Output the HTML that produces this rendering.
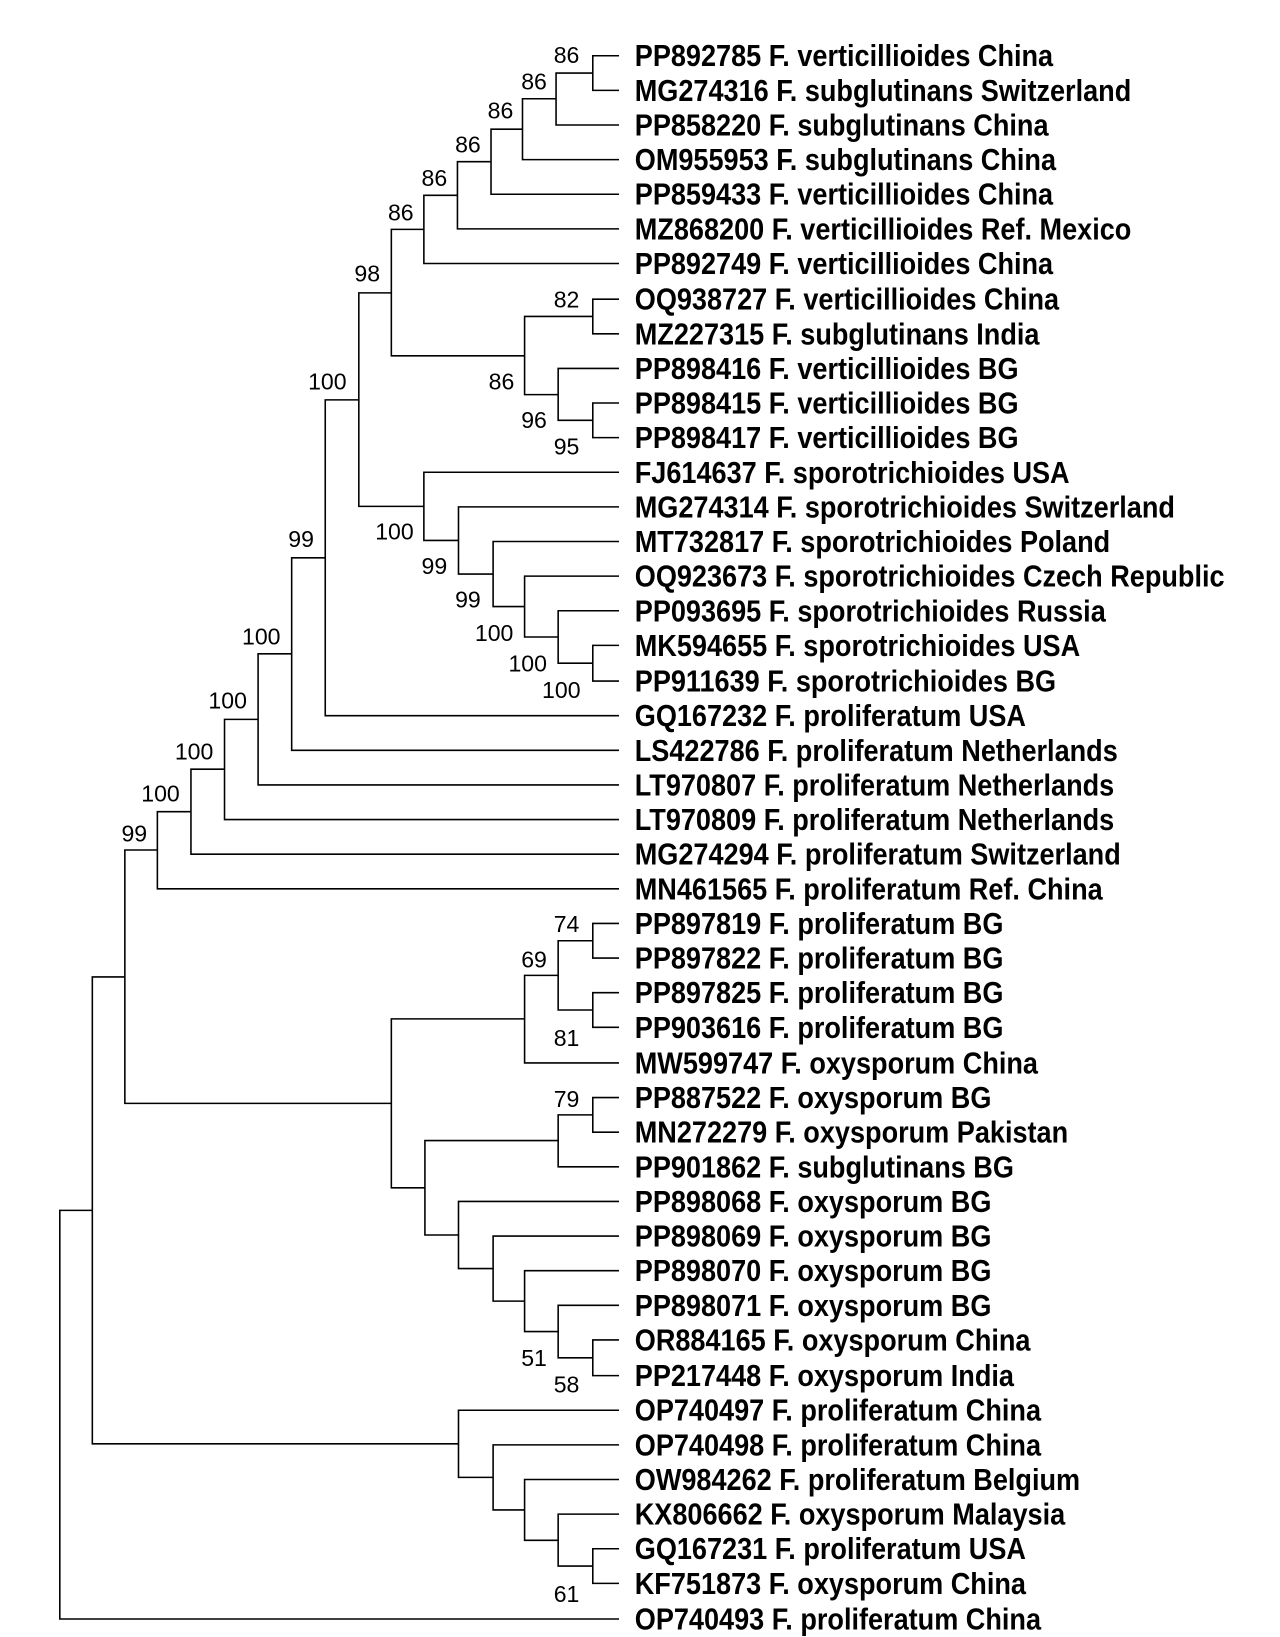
<!DOCTYPE html>
<html><head><meta charset="utf-8"><style>
html,body{margin:0;padding:0;background:#fff;}
svg{display:block;}
.t{font-family:"Liberation Sans",sans-serif;font-weight:bold;font-size:29px;fill:#000;}
.b{font-family:"Liberation Sans",sans-serif;font-size:22px;fill:#000;text-anchor:middle;}
path{fill:none;stroke:#000;stroke-width:1.5;}
</style></head><body>
<svg width="1280" height="1637" viewBox="0 0 1220 1560" xmlns="http://www.w3.org/2000/svg">
<rect width="1220" height="1560" fill="#fff"/>
<g transform="translate(0,-2)">
<g>
<path d="M590 55 H565 V88 H590"/>
<path d="M565 71.5 H530 V121 H590"/>
<path d="M530 96 H498 V154 H590"/>
<path d="M498 125 H468 V187 H590"/>
<path d="M468 156 H436 V220 H590"/>
<path d="M436 188 H404 V253 H590"/>
<path d="M590 287 H565 V320 H590"/>
<path d="M590 386 H565 V419 H590"/>
<path d="M590 353 H532 V402.5 H565"/>
<path d="M565 303.5 H500 V378 H532"/>
<path d="M404 220.5 H373 V341 H500"/>
<path d="M590 617 H565 V651 H590"/>
<path d="M590 584 H532 V634 H565"/>
<path d="M590 551 H500 V609 H532"/>
<path d="M590 518 H470 V580 H500"/>
<path d="M590 485 H437 V549 H470"/>
<path d="M590 452 H404 V517 H437"/>
<path d="M373 281 H342 V484.5 H404"/>
<path d="M342 383 H310 V684 H590"/>
<path d="M310 533.5 H278 V717 H590"/>
<path d="M278 625 H246 V750 H590"/>
<path d="M246 687.5 H214 V783 H590"/>
<path d="M214 735 H182 V816 H590"/>
<path d="M182 775.5 H150 V849 H590"/>
<path d="M590 882 H565 V915 H590"/>
<path d="M590 948 H565 V981 H590"/>
<path d="M565 898.5 H532 V964.5 H565"/>
<path d="M532 931.5 H500 V1015 H590"/>
<path d="M590 1048 H565 V1081 H590"/>
<path d="M565 1064.5 H532 V1114 H590"/>
<path d="M590 1279 H565 V1313 H590"/>
<path d="M590 1246 H532 V1296 H565"/>
<path d="M590 1213 H500 V1271 H532"/>
<path d="M590 1180 H470 V1242 H500"/>
<path d="M590 1147 H437 V1211 H470"/>
<path d="M532 1089 H405 V1179 H437"/>
<path d="M500 973 H373 V1134 H405"/>
<path d="M150 812 H119 V1053.5 H373"/>
<path d="M590 1478 H565 V1511 H590"/>
<path d="M590 1445 H532 V1494.5 H565"/>
<path d="M590 1412 H500 V1470 H532"/>
<path d="M590 1379 H470 V1441 H500"/>
<path d="M590 1346 H437 V1410 H470"/>
<path d="M119 933 H88 V1378 H437"/>
<path d="M88 1155.5 H57 V1545 H590"/>
</g>
<g class="b">
<text x="540" y="62">86</text><text x="509" y="87">86</text><text x="477" y="115">86</text>
<text x="446" y="147">86</text><text x="414" y="179">86</text><text x="382" y="212">86</text>
<text x="350" y="270">98</text><text x="540" y="295">82</text><text x="478" y="373">86</text>
<text x="509" y="410">96</text><text x="540" y="435">95</text><text x="312" y="373">100</text>
<text x="376" y="516">100</text><text x="414" y="549">99</text><text x="446" y="581">99</text>
<text x="471" y="613">100</text><text x="503" y="642">100</text><text x="535" y="667">100</text>
<text x="287" y="523">99</text><text x="249" y="616">100</text><text x="217" y="677">100</text>
<text x="185" y="726">100</text><text x="153" y="766">100</text><text x="128" y="804">99</text>
<text x="540" y="890">74</text><text x="509" y="924">69</text><text x="540" y="999">81</text>
<text x="540" y="1057">79</text><text x="509" y="1304">51</text><text x="540" y="1329">58</text>
<text x="540" y="1529">61</text>
</g>
<g class="t">
<text transform="translate(605,65) scale(0.89,1)">PP892785 F. verticillioides China</text>
<text transform="translate(605,98) scale(0.89,1)">MG274316 F. subglutinans Switzerland</text>
<text transform="translate(605,131) scale(0.89,1)">PP858220 F. subglutinans China</text>
<text transform="translate(605,164) scale(0.89,1)">OM955953 F. subglutinans China</text>
<text transform="translate(605,197) scale(0.89,1)">PP859433 F. verticillioides China</text>
<text transform="translate(605,230) scale(0.89,1)">MZ868200 F. verticillioides Ref. Mexico</text>
<text transform="translate(605,263) scale(0.89,1)">PP892749 F. verticillioides China</text>
<text transform="translate(605,297) scale(0.89,1)">OQ938727 F. verticillioides China</text>
<text transform="translate(605,330) scale(0.89,1)">MZ227315 F. subglutinans India</text>
<text transform="translate(605,363) scale(0.89,1)">PP898416 F. verticillioides BG</text>
<text transform="translate(605,396) scale(0.89,1)">PP898415 F. verticillioides BG</text>
<text transform="translate(605,429) scale(0.89,1)">PP898417 F. verticillioides BG</text>
<text transform="translate(605,462) scale(0.89,1)">FJ614637 F. sporotrichioides USA</text>
<text transform="translate(605,495) scale(0.89,1)">MG274314 F. sporotrichioides Switzerland</text>
<text transform="translate(605,528) scale(0.89,1)">MT732817 F. sporotrichioides Poland</text>
<text transform="translate(605,561) scale(0.89,1)">OQ923673 F. sporotrichioides Czech Republic</text>
<text transform="translate(605,594) scale(0.89,1)">PP093695 F. sporotrichioides Russia</text>
<text transform="translate(605,627) scale(0.89,1)">MK594655 F. sporotrichioides USA</text>
<text transform="translate(605,661) scale(0.89,1)">PP911639 F. sporotrichioides BG</text>
<text transform="translate(605,694) scale(0.89,1)">GQ167232 F. proliferatum USA</text>
<text transform="translate(605,727) scale(0.89,1)">LS422786 F. proliferatum Netherlands</text>
<text transform="translate(605,760) scale(0.89,1)">LT970807 F. proliferatum Netherlands</text>
<text transform="translate(605,793) scale(0.89,1)">LT970809 F. proliferatum Netherlands</text>
<text transform="translate(605,826) scale(0.89,1)">MG274294 F. proliferatum Switzerland</text>
<text transform="translate(605,859) scale(0.89,1)">MN461565 F. proliferatum Ref. China</text>
<text transform="translate(605,892) scale(0.89,1)">PP897819 F. proliferatum BG</text>
<text transform="translate(605,925) scale(0.89,1)">PP897822 F. proliferatum BG</text>
<text transform="translate(605,958) scale(0.89,1)">PP897825 F. proliferatum BG</text>
<text transform="translate(605,991) scale(0.89,1)">PP903616 F. proliferatum BG</text>
<text transform="translate(605,1025) scale(0.89,1)">MW599747 F. oxysporum China</text>
<text transform="translate(605,1058) scale(0.89,1)">PP887522 F. oxysporum BG</text>
<text transform="translate(605,1091) scale(0.89,1)">MN272279 F. oxysporum Pakistan</text>
<text transform="translate(605,1124) scale(0.89,1)">PP901862 F. subglutinans BG</text>
<text transform="translate(605,1157) scale(0.89,1)">PP898068 F. oxysporum BG</text>
<text transform="translate(605,1190) scale(0.89,1)">PP898069 F. oxysporum BG</text>
<text transform="translate(605,1223) scale(0.89,1)">PP898070 F. oxysporum BG</text>
<text transform="translate(605,1256) scale(0.89,1)">PP898071 F. oxysporum BG</text>
<text transform="translate(605,1289) scale(0.89,1)">OR884165 F. oxysporum China</text>
<text transform="translate(605,1323) scale(0.89,1)">PP217448 F. oxysporum India</text>
<text transform="translate(605,1356) scale(0.89,1)">OP740497 F. proliferatum China</text>
<text transform="translate(605,1389) scale(0.89,1)">OP740498 F. proliferatum China</text>
<text transform="translate(605,1422) scale(0.89,1)">OW984262 F. proliferatum Belgium</text>
<text transform="translate(605,1455) scale(0.89,1)">KX806662 F. oxysporum Malaysia</text>
<text transform="translate(605,1488) scale(0.89,1)">GQ167231 F. proliferatum USA</text>
<text transform="translate(605,1521) scale(0.89,1)">KF751873 F. oxysporum China</text>
<text transform="translate(605,1555) scale(0.89,1)">OP740493 F. proliferatum China</text>
</g>
</g>
</svg>
</body></html>
